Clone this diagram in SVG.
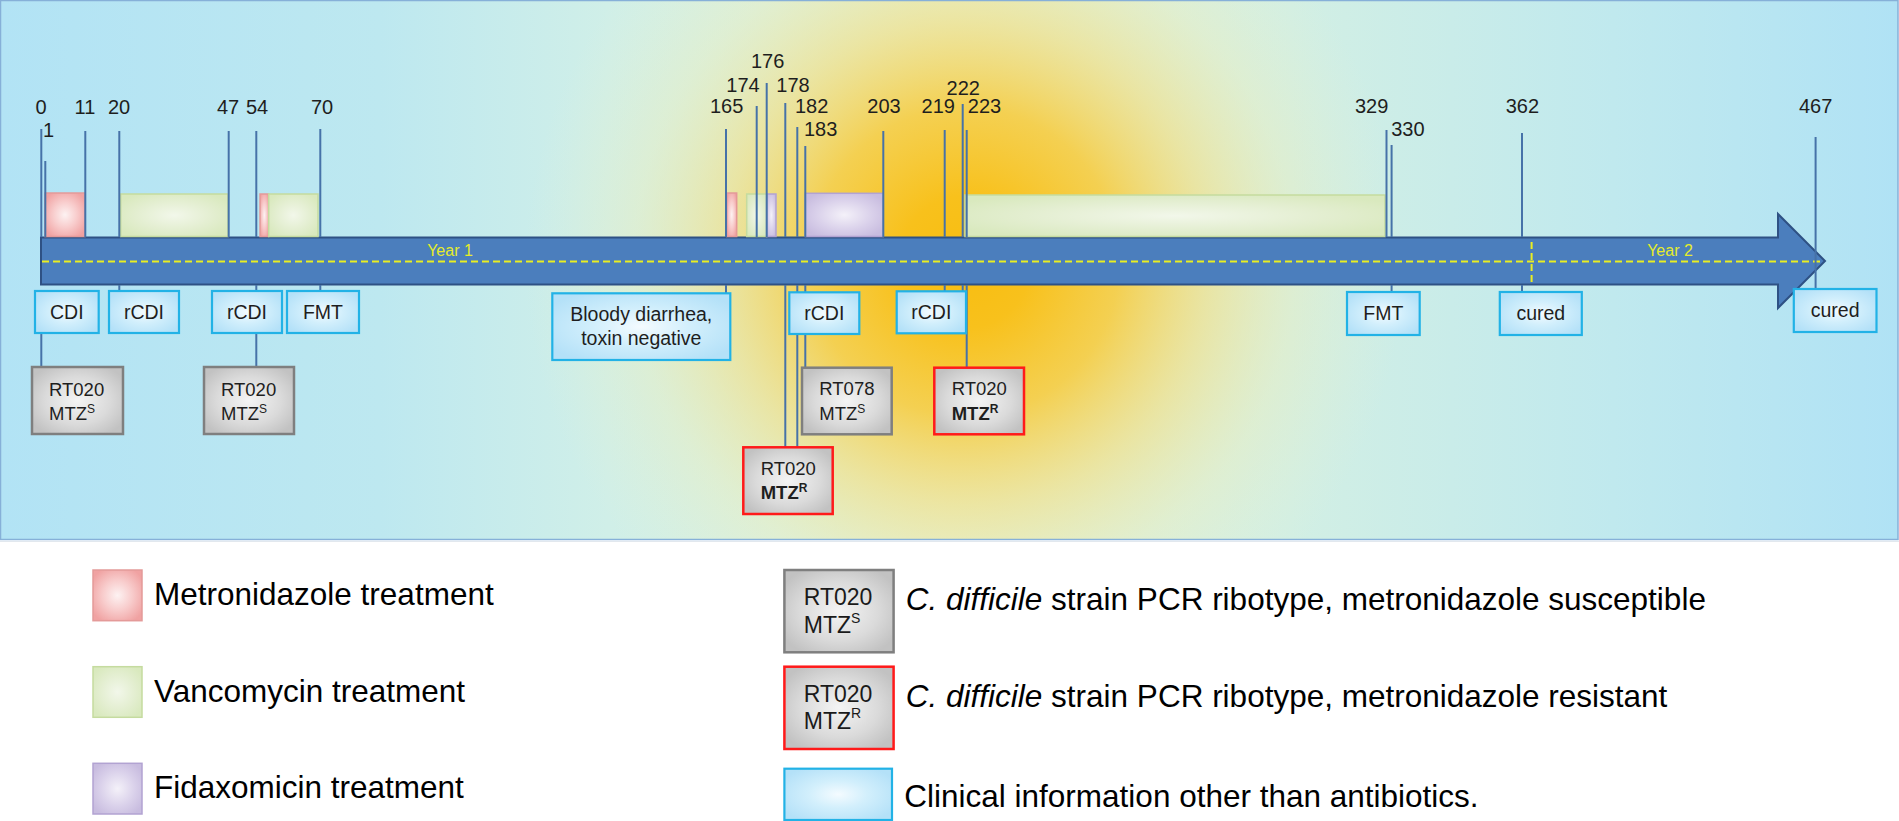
<svg xmlns="http://www.w3.org/2000/svg" width="1899" height="821" viewBox="0 0 1899 821">
<defs>
<linearGradient id="bgLin" x1="0" y1="0" x2="1" y2="0">
<stop offset="0" stop-color="#b2e3f5"/>
<stop offset="0.2" stop-color="#bde8f0"/>
<stop offset="0.32" stop-color="#d0efe8"/>
<stop offset="0.5" stop-color="#e0f3df"/>
<stop offset="0.68" stop-color="#d2efe4"/>
<stop offset="0.85" stop-color="#c0e9ee"/>
<stop offset="1" stop-color="#b0e2f5"/>
</linearGradient>
<radialGradient id="glow" gradientUnits="userSpaceOnUse" cx="965" cy="262" r="440">
<stop offset="0" stop-color="#f8bd10" stop-opacity="1"/>
<stop offset="0.15" stop-color="#f8c11c" stop-opacity="1"/>
<stop offset="0.35" stop-color="#f6cd45" stop-opacity="0.92"/>
<stop offset="0.55" stop-color="#f2df85" stop-opacity="0.68"/>
<stop offset="0.75" stop-color="#eeecb5" stop-opacity="0.38"/>
<stop offset="1" stop-color="#e8f0d0" stop-opacity="0"/>
</radialGradient>
<radialGradient id="gRed" cx="0.5" cy="0.5" r="0.6">
<stop offset="0" stop-color="#fdf2f2"/>
<stop offset="0.5" stop-color="#f8cccc"/>
<stop offset="1" stop-color="#f0a2a2"/>
</radialGradient>
<radialGradient id="gGreen" cx="0.5" cy="0.5" r="0.6">
<stop offset="0" stop-color="#f2f7ea"/>
<stop offset="0.6" stop-color="#e3eed0"/>
<stop offset="1" stop-color="#d9e9be"/>
</radialGradient>
<radialGradient id="gPurple" cx="0.5" cy="0.5" r="0.6">
<stop offset="0" stop-color="#f4f1f9"/>
<stop offset="0.6" stop-color="#d9d0ea"/>
<stop offset="1" stop-color="#c8bcdf"/>
</radialGradient>
<radialGradient id="gBlue" cx="0.5" cy="0.5" r="0.6">
<stop offset="0" stop-color="#f4fbff"/>
<stop offset="0.45" stop-color="#d2effc"/>
<stop offset="1" stop-color="#b4e1f8"/>
</radialGradient>
<radialGradient id="gGray" cx="0.5" cy="0.5" r="0.6">
<stop offset="0" stop-color="#f4f4f4"/>
<stop offset="0.6" stop-color="#dadada"/>
<stop offset="1" stop-color="#c2c2c2"/>
</radialGradient>
</defs>
<style>
.num{font-family:"Liberation Sans",Arial,sans-serif;font-size:20px;fill:#1e1e1e;text-anchor:middle}
.bt{font-family:"Liberation Sans",Arial,sans-serif;font-size:19.5px;fill:#1e1e1e;text-anchor:middle}
.st{font-family:"Liberation Sans",Arial,sans-serif;font-size:18.5px;fill:#1e1e1e}
.b{font-weight:bold}
.sup{font-size:12px}
.yr{font-family:"Liberation Sans",Arial,sans-serif;font-size:16px;fill:#e6ec2a;text-anchor:middle}
.ln{stroke:#4672a8;stroke-width:2;fill:none}
.info{fill:url(#gBlue);stroke:#22b2e6;stroke-width:2.2}
.gray{fill:url(#gGray);stroke:#7f7f7f;stroke-width:2.5}
.red{fill:url(#gGray);stroke:#ff1a1a;stroke-width:2.5}
.tr{fill:url(#gRed);stroke:#e49a99;stroke-width:1.5}
.tg{fill:url(#gGreen);stroke:#c5db9f;stroke-width:1.5}
.tp{fill:url(#gPurple);stroke:#b2a3d2;stroke-width:1.5}
.dash{stroke:#eaee22;stroke-width:2;stroke-dasharray:7 4;fill:none}
.lg{font-family:"Liberation Sans",Arial,sans-serif;font-size:31.5px;fill:#000}
.lgb{font-family:"Liberation Sans",Arial,sans-serif;font-size:23px;fill:#1a1a1a}
.lgsup{font-size:14px}
</style>

<g id="panel">
<rect x="0.5" y="0.5" width="1897.5" height="539" fill="url(#bgLin)"/>
<rect x="0.5" y="0.5" width="1897.5" height="539" fill="url(#glow)"/>
<rect x="0.5" y="0.5" width="1897.5" height="539" fill="none" stroke="#86b0d8" stroke-width="1.5"/>
<line x1="0" y1="541.5" x2="1899" y2="541.5" stroke="#e2e8ee" stroke-width="1"/>
</g>

<g id="timeline-arrow">
<path d="M41,237.5 H1778 V214 L1825,261 L1778,308 V284.5 H41 Z" fill="#4b7ebd" stroke="#2e5184" stroke-width="2"/>
<line class="dash" x1="42" y1="261.5" x2="1822" y2="261.5"/>
<line class="dash" x1="1531.6" y1="242" x2="1531.6" y2="282"/>
<text class="yr" x="450" y="256">Year 1</text>
<text class="yr" x="1670" y="256">Year 2</text>
</g>

<g id="treatments">
<rect id="mtz-1" class="tr" x="45" y="193" width="40" height="43.5"/>
<rect id="van-1" class="tg" x="120.7" y="194" width="107.3" height="42.5"/>
<rect id="mtz-2" class="tr" x="260" y="194" width="8.7" height="42.5"/>
<rect id="van-2" class="tg" x="268.7" y="194" width="49.3" height="42.5"/>
<rect id="mtz-3" class="tr" x="726.7" y="193" width="10" height="43.5"/>
<rect id="van-3" class="tg" x="746.7" y="194" width="20" height="42.5"/>
<rect id="fdx-1" class="tp" x="766.7" y="194" width="9.3" height="42.5"/>
<rect id="fdx-2" class="tp" x="805.3" y="193.3" width="78" height="43.2"/>
<rect id="van-4" class="tg" x="965" y="195" width="420" height="41.5"/>
</g>

<g id="connectors">
<line class="ln" x1="41.3" y1="129" x2="41.3" y2="237"/>
<line class="ln" x1="45.3" y1="161" x2="45.3" y2="237"/>
<line class="ln" x1="85.3" y1="131" x2="85.3" y2="237"/>
<line class="ln" x1="119.3" y1="131" x2="119.3" y2="237"/>
<line class="ln" x1="228.7" y1="131" x2="228.7" y2="237"/>
<line class="ln" x1="256.3" y1="131" x2="256.3" y2="237"/>
<line class="ln" x1="320.3" y1="129" x2="320.3" y2="237"/>
<line class="ln" x1="726" y1="129" x2="726" y2="237"/>
<line class="ln" x1="756.7" y1="106" x2="756.7" y2="237"/>
<line class="ln" x1="766.7" y1="83" x2="766.7" y2="237"/>
<line class="ln" x1="785.3" y1="103" x2="785.3" y2="237"/>
<line class="ln" x1="797.3" y1="127" x2="797.3" y2="237"/>
<line class="ln" x1="805.3" y1="146" x2="805.3" y2="237"/>
<line class="ln" x1="883.3" y1="131" x2="883.3" y2="237"/>
<line class="ln" x1="944.7" y1="130" x2="944.7" y2="237"/>
<line class="ln" x1="962.7" y1="104" x2="962.7" y2="237"/>
<line class="ln" x1="966.7" y1="130" x2="966.7" y2="237"/>
<line class="ln" x1="1386.5" y1="130" x2="1386.5" y2="237"/>
<line class="ln" x1="1391.6" y1="145" x2="1391.6" y2="237"/>
<line class="ln" x1="1522" y1="133" x2="1522" y2="237"/>
<line class="ln" x1="1815.6" y1="137" x2="1815.6" y2="289"/>
<line class="ln" x1="41.3" y1="333" x2="41.3" y2="367"/>
<line class="ln" x1="119.3" y1="285" x2="119.3" y2="291"/>
<line class="ln" x1="256.3" y1="285" x2="256.3" y2="291"/>
<line class="ln" x1="256.3" y1="333" x2="256.3" y2="367"/>
<line class="ln" x1="320.3" y1="285" x2="320.3" y2="291"/>
<line class="ln" x1="726" y1="285" x2="726" y2="293"/>
<line class="ln" x1="785.3" y1="285" x2="785.3" y2="447"/>
<line class="ln" x1="797.3" y1="285" x2="797.3" y2="447"/>
<line class="ln" x1="805.3" y1="285" x2="805.3" y2="367.7"/>
<line class="ln" x1="944.7" y1="285" x2="944.7" y2="291.3"/>
<line class="ln" x1="962.7" y1="285" x2="962.7" y2="291.3"/>
<line class="ln" x1="966.7" y1="285" x2="966.7" y2="367.7"/>
<line class="ln" x1="1391.6" y1="285" x2="1391.6" y2="292"/>
<line class="ln" x1="1522" y1="285" x2="1522" y2="292"/>
</g>

<g id="day-labels">
<text class="num" x="41" y="114">0</text>
<text class="num" x="48.5" y="137">1</text>
<text class="num" x="85" y="114">11</text>
<text class="num" x="119" y="114">20</text>
<text class="num" x="228" y="114">47</text>
<text class="num" x="257" y="114">54</text>
<text class="num" x="322" y="114">70</text>
<text class="num" x="726.7" y="113">165</text>
<text class="num" x="743" y="91.7">174</text>
<text class="num" x="767.7" y="68">176</text>
<text class="num" x="793" y="91.7">178</text>
<text class="num" x="811.7" y="113">182</text>
<text class="num" x="820.7" y="136">183</text>
<text class="num" x="884" y="113">203</text>
<text class="num" x="938.3" y="113">219</text>
<text class="num" x="963.3" y="95">222</text>
<text class="num" x="984.5" y="113">223</text>
<text class="num" x="1371.7" y="113">329</text>
<text class="num" x="1407.9" y="136">330</text>
<text class="num" x="1522.4" y="113">362</text>
<text class="num" x="1815.6" y="113">467</text>
</g>

<g id="info-cdi"><rect class="info" x="35" y="291" width="63.7" height="42"/><text class="bt" x="66.8" y="319">CDI</text></g>
<g id="info-rcdi-1"><rect class="info" x="109" y="291" width="70" height="42"/><text class="bt" x="144" y="319">rCDI</text></g>
<g id="info-rcdi-2"><rect class="info" x="212" y="291" width="70" height="42"/><text class="bt" x="247" y="319">rCDI</text></g>
<g id="info-fmt-1"><rect class="info" x="287" y="291" width="72" height="42"/><text class="bt" x="323" y="319">FMT</text></g>
<g id="info-bloody"><rect class="info" x="552.3" y="293.3" width="178" height="66.7"/><text class="bt" x="641.3" y="320.7">Bloody diarrhea,</text><text class="bt" x="641.3" y="345">toxin negative</text></g>
<g id="info-rcdi-3"><rect class="info" x="789.3" y="292.3" width="70" height="41.7"/><text class="bt" x="824.3" y="319.5">rCDI</text></g>
<g id="info-rcdi-4"><rect class="info" x="896.7" y="291.3" width="69.3" height="42"/><text class="bt" x="931.3" y="319">rCDI</text></g>
<g id="info-fmt-2"><rect class="info" x="1347" y="292" width="72.7" height="43"/><text class="bt" x="1383.3" y="320">FMT</text></g>
<g id="info-cured-1"><rect class="info" x="1499.8" y="292" width="82" height="43"/><text class="bt" x="1540.8" y="320">cured</text></g>
<g id="info-cured-2"><rect class="info" x="1793.8" y="289" width="82.7" height="43"/><text class="bt" x="1835.1" y="317">cured</text></g>

<g id="strain-1"><rect class="gray" x="32" y="367" width="91" height="67"/><text class="st" x="49" y="395.7">RT020</text><text class="st" x="49" y="420">MTZ<tspan class="sup" dy="-7">S</tspan></text></g>
<g id="strain-2"><rect class="gray" x="204" y="367" width="90" height="67"/><text class="st" x="221" y="395.7">RT020</text><text class="st" x="221" y="420">MTZ<tspan class="sup" dy="-7">S</tspan></text></g>
<g id="strain-3"><rect class="red" x="743.3" y="447.3" width="89.4" height="66.7"/><text class="st" x="760.7" y="475">RT020</text><text class="st b" x="760.7" y="499.3">MTZ<tspan class="sup" dy="-7">R</tspan></text></g>
<g id="strain-4"><rect class="gray" x="802" y="367.7" width="89.7" height="66.6"/><text class="st" x="819.3" y="395.3">RT078</text><text class="st" x="819.3" y="419.5">MTZ<tspan class="sup" dy="-7">S</tspan></text></g>
<g id="strain-5"><rect class="red" x="934.3" y="367.7" width="89.7" height="66.6"/><text class="st" x="951.7" y="395.3">RT020</text><text class="st b" x="951.7" y="419.5">MTZ<tspan class="sup" dy="-7">R</tspan></text></g>

<g id="legend-mtz"><rect class="tr" x="93" y="570" width="49" height="50.7"/><text class="lg" x="154" y="605">Metronidazole treatment</text></g>
<g id="legend-van"><rect class="tg" x="93" y="666.7" width="49" height="50.6"/><text class="lg" x="154" y="701.7">Vancomycin treatment</text></g>
<g id="legend-fdx"><rect class="tp" x="93" y="763.3" width="49" height="50.7"/><text class="lg" x="154" y="798.3">Fidaxomicin treatment</text></g>
<g id="legend-susceptible"><rect class="gray" x="784.4" y="570" width="109.2" height="82.3"/><text class="lgb" x="803.8" y="605">RT020</text><text class="lgb" x="803.8" y="633.3">MTZ<tspan class="lgsup" dy="-10.6">S</tspan></text><text class="lg" x="905.8" y="610"><tspan font-style="italic">C. difficile</tspan> strain PCR ribotype, metronidazole susceptible</text></g>
<g id="legend-resistant"><rect class="red" x="784.4" y="666.7" width="109.2" height="82.3"/><text class="lgb" x="803.8" y="701.7">RT020</text><text class="lgb" x="803.8" y="729">MTZ<tspan class="lgsup" dy="-10.6">R</tspan></text><text class="lg" x="905.8" y="706.7"><tspan font-style="italic">C. difficile</tspan> strain PCR ribotype, metronidazole resistant</text></g>
<g id="legend-clinical"><rect class="info" x="784.4" y="768.7" width="107.6" height="51.3"/><text class="lg" x="904.3" y="806.7">Clinical information other than antibiotics.</text></g>
</svg>
